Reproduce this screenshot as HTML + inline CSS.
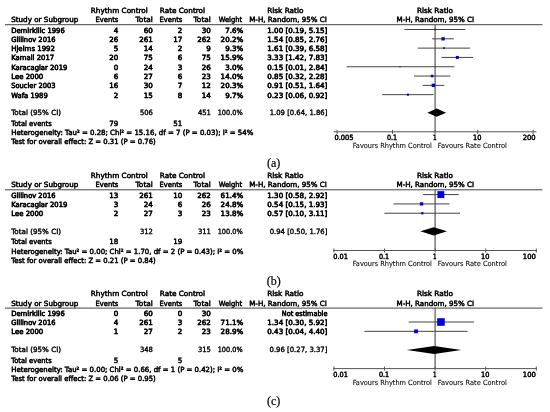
<!DOCTYPE html>
<html><head><meta charset="utf-8"><title>Forest plots</title>
<style>
html,body{margin:0;padding:0;background:#fff;}
svg{display:block;}
.t{font-family:"DejaVu Sans","Liberation Sans",sans-serif;font-size:7.15px;fill:#000;}
.h{stroke:#000;stroke-width:0.5px;}
.d{stroke:#000;stroke-width:0.62px;}
.f{stroke:#000;stroke-width:0.5px;}
.b{stroke:#000;stroke-width:0.38px;}
.a{stroke:#000;stroke-width:0.5px;}
.fv{stroke:#000;stroke-width:0.08px;}
.lab{font-family:"Liberation Serif",serif;font-size:12px;fill:#000;stroke:#000;stroke-width:0.2px;}
.rule{stroke:#444;stroke-width:1;}
.vl{stroke:#484848;stroke-width:1.1;}
.ci{stroke:#444;stroke-width:1;}
.ax{stroke:#555;stroke-width:1;}
.sq{fill:#0000e6;}
.dia{fill:#000;}
</style></head><body>
<svg width="550" height="412" viewBox="0 0 550 412">
<rect width="550" height="412" fill="#fff"/>
<text x="90.80" y="12.50" class="t h" textLength="57.0" lengthAdjust="spacingAndGlyphs">Rhythm Control</text>
<text x="159.80" y="12.50" class="t h" textLength="45.3" lengthAdjust="spacingAndGlyphs">Rate Control</text>
<text x="285.30" y="12.50" class="t h" text-anchor="middle" textLength="36.2" lengthAdjust="spacingAndGlyphs">Risk Ratio</text>
<text x="435.00" y="12.50" class="t h" text-anchor="middle" textLength="36.2" lengthAdjust="spacingAndGlyphs">Risk Ratio</text>
<text x="11.20" y="21.75" class="t h" textLength="67.2" lengthAdjust="spacingAndGlyphs">Study or Subgroup</text>
<text x="118.30" y="21.75" class="t h" text-anchor="end" textLength="22.7" lengthAdjust="spacingAndGlyphs">Events</text>
<text x="152.90" y="21.75" class="t h" text-anchor="end" textLength="17.3" lengthAdjust="spacingAndGlyphs">Total</text>
<text x="182.30" y="21.75" class="t h" text-anchor="end" textLength="22.7" lengthAdjust="spacingAndGlyphs">Events</text>
<text x="210.90" y="21.75" class="t h" text-anchor="end" textLength="17.3" lengthAdjust="spacingAndGlyphs">Total</text>
<text x="242.20" y="21.75" class="t h" text-anchor="end" textLength="23.5" lengthAdjust="spacingAndGlyphs">Weight</text>
<text x="326.80" y="21.75" class="t h" text-anchor="end" textLength="77.6" lengthAdjust="spacingAndGlyphs">M-H, Random, 95% CI</text>
<text x="435.30" y="21.75" class="t h" text-anchor="middle" textLength="77.6" lengthAdjust="spacingAndGlyphs">M-H, Random, 95% CI</text>
<line x1="5.00" y1="24.70" x2="542.40" y2="24.70" class="rule"/>
<line x1="435.10" y1="24.70" x2="435.10" y2="131.80" class="vl"/>
<text x="11.20" y="32.50" class="t d" textLength="53.6" lengthAdjust="spacingAndGlyphs">Demirkilic 1996</text>
<text x="118.30" y="32.50" class="t d" text-anchor="end">4</text>
<text x="152.90" y="32.50" class="t d" text-anchor="end">60</text>
<text x="182.30" y="32.50" class="t d" text-anchor="end">2</text>
<text x="210.90" y="32.50" class="t d" text-anchor="end">30</text>
<text x="243.30" y="32.50" class="t d" text-anchor="end">7.6%</text>
<text x="327.40" y="32.50" class="t d" text-anchor="end">1.00 [0.19, 5.15]</text>
<line x1="404.37" y1="29.50" x2="465.42" y2="29.50" class="ci"/>
<rect x="434.35" y="28.75" width="1.50" height="1.50" class="sq"/>
<text x="11.20" y="41.81" class="t d" textLength="44.3" lengthAdjust="spacingAndGlyphs">Gillinov 2016</text>
<text x="118.30" y="41.81" class="t d" text-anchor="end">26</text>
<text x="152.90" y="41.81" class="t d" text-anchor="end">261</text>
<text x="182.30" y="41.81" class="t d" text-anchor="end">17</text>
<text x="210.90" y="41.81" class="t d" text-anchor="end">262</text>
<text x="243.30" y="41.81" class="t d" text-anchor="end">20.2%</text>
<text x="327.40" y="41.81" class="t d" text-anchor="end">1.54 [0.85, 2.76]</text>
<line x1="432.09" y1="38.81" x2="453.88" y2="38.81" class="ci"/>
<rect x="441.44" y="37.16" width="3.30" height="3.30" class="sq"/>
<text x="11.20" y="51.12" class="t d" textLength="43.8" lengthAdjust="spacingAndGlyphs">Hjelms 1992</text>
<text x="118.30" y="51.12" class="t d" text-anchor="end">5</text>
<text x="152.90" y="51.12" class="t d" text-anchor="end">14</text>
<text x="182.30" y="51.12" class="t d" text-anchor="end">2</text>
<text x="210.90" y="51.12" class="t d" text-anchor="end">9</text>
<text x="243.30" y="51.12" class="t d" text-anchor="end">9.3%</text>
<text x="327.40" y="51.12" class="t d" text-anchor="end">1.61 [0.39, 6.58]</text>
<line x1="417.68" y1="48.12" x2="469.96" y2="48.12" class="ci"/>
<rect x="443.06" y="47.27" width="1.70" height="1.70" class="sq"/>
<text x="11.20" y="60.43" class="t d" textLength="43.0" lengthAdjust="spacingAndGlyphs">Kamali 2017</text>
<text x="118.30" y="60.43" class="t d" text-anchor="end">20</text>
<text x="152.90" y="60.43" class="t d" text-anchor="end">75</text>
<text x="182.30" y="60.43" class="t d" text-anchor="end">6</text>
<text x="210.90" y="60.43" class="t d" text-anchor="end">75</text>
<text x="243.30" y="60.43" class="t d" text-anchor="end">15.9%</text>
<text x="327.40" y="60.43" class="t d" text-anchor="end">3.33 [1.42, 7.83]</text>
<line x1="441.59" y1="57.43" x2="473.17" y2="57.43" class="ci"/>
<rect x="455.86" y="55.93" width="3.00" height="3.00" class="sq"/>
<text x="11.20" y="69.74" class="t d" textLength="56.2" lengthAdjust="spacingAndGlyphs">Karacaglar 2019</text>
<text x="118.30" y="69.74" class="t d" text-anchor="end">0</text>
<text x="152.90" y="69.74" class="t d" text-anchor="end">24</text>
<text x="182.30" y="69.74" class="t d" text-anchor="end">3</text>
<text x="210.90" y="69.74" class="t d" text-anchor="end">26</text>
<text x="243.30" y="69.74" class="t d" text-anchor="end">3.0%</text>
<text x="327.40" y="69.74" class="t d" text-anchor="end">0.15 [0.01, 2.84]</text>
<line x1="346.67" y1="66.74" x2="454.41" y2="66.74" class="ci"/>
<rect x="399.40" y="66.14" width="1.20" height="1.20" class="sq"/>
<text x="11.20" y="79.05" class="t d" textLength="32.1" lengthAdjust="spacingAndGlyphs">Lee 2000</text>
<text x="118.30" y="79.05" class="t d" text-anchor="end">6</text>
<text x="152.90" y="79.05" class="t d" text-anchor="end">27</text>
<text x="182.30" y="79.05" class="t d" text-anchor="end">6</text>
<text x="210.90" y="79.05" class="t d" text-anchor="end">23</text>
<text x="243.30" y="79.05" class="t d" text-anchor="end">14.0%</text>
<text x="327.40" y="79.05" class="t d" text-anchor="end">0.85 [0.32, 2.28]</text>
<line x1="414.02" y1="76.05" x2="450.35" y2="76.05" class="ci"/>
<rect x="430.79" y="74.75" width="2.60" height="2.60" class="sq"/>
<text x="11.20" y="88.36" class="t d" textLength="44.3" lengthAdjust="spacingAndGlyphs">Soucier 2003</text>
<text x="118.30" y="88.36" class="t d" text-anchor="end">16</text>
<text x="152.90" y="88.36" class="t d" text-anchor="end">30</text>
<text x="182.30" y="88.36" class="t d" text-anchor="end">7</text>
<text x="210.90" y="88.36" class="t d" text-anchor="end">12</text>
<text x="243.30" y="88.36" class="t d" text-anchor="end">20.3%</text>
<text x="327.40" y="88.36" class="t d" text-anchor="end">0.91 [0.51, 1.64]</text>
<line x1="422.64" y1="85.36" x2="444.25" y2="85.36" class="ci"/>
<rect x="431.66" y="83.66" width="3.40" height="3.40" class="sq"/>
<text x="11.20" y="97.67" class="t d" textLength="36.6" lengthAdjust="spacingAndGlyphs">Wafa 1989</text>
<text x="118.30" y="97.67" class="t d" text-anchor="end">2</text>
<text x="152.90" y="97.67" class="t d" text-anchor="end">15</text>
<text x="182.30" y="97.67" class="t d" text-anchor="end">8</text>
<text x="210.90" y="97.67" class="t d" text-anchor="end">14</text>
<text x="243.30" y="97.67" class="t d" text-anchor="end">9.7%</text>
<text x="327.40" y="97.67" class="t d" text-anchor="end">0.23 [0.06, 0.92]</text>
<line x1="382.17" y1="94.67" x2="433.56" y2="94.67" class="ci"/>
<rect x="406.86" y="93.62" width="2.10" height="2.10" class="sq"/>
<text x="11.20" y="115.30" class="t b" textLength="49.9" lengthAdjust="spacingAndGlyphs">Total (95% CI)</text>
<text x="152.90" y="115.30" class="t b" text-anchor="end" textLength="13.0" lengthAdjust="spacingAndGlyphs">506</text>
<text x="210.90" y="115.30" class="t b" text-anchor="end" textLength="13.0" lengthAdjust="spacingAndGlyphs">451</text>
<text x="242.70" y="115.30" class="t b" text-anchor="end" textLength="25.0" lengthAdjust="spacingAndGlyphs">100.0%</text>
<text x="327.40" y="115.30" class="t b" text-anchor="end" textLength="57.7" lengthAdjust="spacingAndGlyphs">1.09 [0.64, 1.86]</text>
<polygon points="427.34,112.70 436.69,108.60 446.08,112.70 436.69,116.80" class="dia"/>
<text x="11.20" y="125.70" class="t f" textLength="40.5" lengthAdjust="spacingAndGlyphs">Total events</text>
<text x="118.30" y="125.70" class="t f" text-anchor="end">79</text>
<text x="182.30" y="125.70" class="t f" text-anchor="end">51</text>
<text x="11.20" y="135.01" class="t f" textLength="242.2" lengthAdjust="spacingAndGlyphs">Heterogeneity: Tau² = 0.28; Chi² = 15.16, df = 7 (P = 0.03); I² = 54%</text>
<text x="11.20" y="144.32" class="t f" textLength="144.6" lengthAdjust="spacingAndGlyphs">Test for overall effect: Z = 0.31 (P = 0.76)</text>
<line x1="333.60" y1="131.80" x2="536.50" y2="131.80" class="ax"/>
<line x1="337.08" y1="129.80" x2="337.08" y2="133.80" class="ax"/>
<text x="334.40" y="139.80" class="t a" textLength="19.2" lengthAdjust="spacingAndGlyphs">0.005</text>
<line x1="392.50" y1="129.80" x2="392.50" y2="133.80" class="ax"/>
<text x="392.10" y="139.80" class="t a" text-anchor="middle" textLength="10.2" lengthAdjust="spacingAndGlyphs">0.1</text>
<line x1="435.10" y1="129.80" x2="435.10" y2="133.80" class="ax"/>
<text x="434.70" y="139.80" class="t a" text-anchor="middle" textLength="3.6" lengthAdjust="spacingAndGlyphs">1</text>
<line x1="477.70" y1="129.80" x2="477.70" y2="133.80" class="ax"/>
<text x="477.30" y="139.80" class="t a" text-anchor="middle" textLength="8.4" lengthAdjust="spacingAndGlyphs">10</text>
<line x1="533.12" y1="129.80" x2="533.12" y2="133.80" class="ax"/>
<text x="535.70" y="139.80" class="t a" text-anchor="end" textLength="13.0" lengthAdjust="spacingAndGlyphs">200</text>
<text x="431.90" y="147.70" class="t fv" text-anchor="end" textLength="79.2" lengthAdjust="spacingAndGlyphs">Favours Rhythm Control</text>
<text x="437.80" y="147.70" class="t fv" textLength="69.1" lengthAdjust="spacingAndGlyphs">Favours Rate Control</text>
<text x="273.70" y="167.40" class="lab" text-anchor="middle">(a)</text>
<text x="90.80" y="177.60" class="t h" textLength="57.0" lengthAdjust="spacingAndGlyphs">Rhythm Control</text>
<text x="159.80" y="177.60" class="t h" textLength="45.3" lengthAdjust="spacingAndGlyphs">Rate Control</text>
<text x="285.30" y="177.60" class="t h" text-anchor="middle" textLength="36.2" lengthAdjust="spacingAndGlyphs">Risk Ratio</text>
<text x="435.00" y="177.60" class="t h" text-anchor="middle" textLength="36.2" lengthAdjust="spacingAndGlyphs">Risk Ratio</text>
<text x="11.20" y="186.85" class="t h" textLength="67.2" lengthAdjust="spacingAndGlyphs">Study or Subgroup</text>
<text x="118.30" y="186.85" class="t h" text-anchor="end" textLength="22.7" lengthAdjust="spacingAndGlyphs">Events</text>
<text x="152.90" y="186.85" class="t h" text-anchor="end" textLength="17.3" lengthAdjust="spacingAndGlyphs">Total</text>
<text x="182.30" y="186.85" class="t h" text-anchor="end" textLength="22.7" lengthAdjust="spacingAndGlyphs">Events</text>
<text x="210.90" y="186.85" class="t h" text-anchor="end" textLength="17.3" lengthAdjust="spacingAndGlyphs">Total</text>
<text x="242.20" y="186.85" class="t h" text-anchor="end" textLength="23.5" lengthAdjust="spacingAndGlyphs">Weight</text>
<text x="326.80" y="186.85" class="t h" text-anchor="end" textLength="77.6" lengthAdjust="spacingAndGlyphs">M-H, Random, 95% CI</text>
<text x="435.30" y="186.85" class="t h" text-anchor="middle" textLength="77.6" lengthAdjust="spacingAndGlyphs">M-H, Random, 95% CI</text>
<line x1="5.00" y1="189.80" x2="542.40" y2="189.80" class="rule"/>
<line x1="435.10" y1="189.80" x2="435.10" y2="250.50" class="vl"/>
<text x="11.20" y="197.60" class="t d" textLength="44.3" lengthAdjust="spacingAndGlyphs">Gillinov 2016</text>
<text x="118.30" y="197.60" class="t d" text-anchor="end">13</text>
<text x="152.90" y="197.60" class="t d" text-anchor="end">261</text>
<text x="182.30" y="197.60" class="t d" text-anchor="end">10</text>
<text x="210.90" y="197.60" class="t d" text-anchor="end">262</text>
<text x="243.30" y="197.60" class="t d" text-anchor="end">61.4%</text>
<text x="327.40" y="197.60" class="t d" text-anchor="end">1.30 [0.58, 2.92]</text>
<line x1="423.13" y1="194.60" x2="458.65" y2="194.60" class="ci"/>
<rect x="437.42" y="191.15" width="6.90" height="6.90" class="sq"/>
<text x="11.20" y="206.91" class="t d" textLength="56.2" lengthAdjust="spacingAndGlyphs">Karacaglar 2019</text>
<text x="118.30" y="206.91" class="t d" text-anchor="end">3</text>
<text x="152.90" y="206.91" class="t d" text-anchor="end">24</text>
<text x="182.30" y="206.91" class="t d" text-anchor="end">6</text>
<text x="210.90" y="206.91" class="t d" text-anchor="end">26</text>
<text x="243.30" y="206.91" class="t d" text-anchor="end">24.8%</text>
<text x="327.40" y="206.91" class="t d" text-anchor="end">0.54 [0.15, 1.93]</text>
<line x1="393.41" y1="203.91" x2="449.55" y2="203.91" class="ci"/>
<rect x="419.91" y="202.26" width="3.30" height="3.30" class="sq"/>
<text x="11.20" y="216.22" class="t d" textLength="32.1" lengthAdjust="spacingAndGlyphs">Lee 2000</text>
<text x="118.30" y="216.22" class="t d" text-anchor="end">2</text>
<text x="152.90" y="216.22" class="t d" text-anchor="end">27</text>
<text x="182.30" y="216.22" class="t d" text-anchor="end">3</text>
<text x="210.90" y="216.22" class="t d" text-anchor="end">23</text>
<text x="243.30" y="216.22" class="t d" text-anchor="end">13.8%</text>
<text x="327.40" y="216.22" class="t d" text-anchor="end">0.57 [0.10, 3.11]</text>
<line x1="384.50" y1="213.22" x2="460.03" y2="213.22" class="ci"/>
<rect x="421.13" y="212.07" width="2.30" height="2.30" class="sq"/>
<text x="11.20" y="233.90" class="t b" textLength="49.9" lengthAdjust="spacingAndGlyphs">Total (95% CI)</text>
<text x="152.90" y="233.90" class="t b" text-anchor="end" textLength="13.0" lengthAdjust="spacingAndGlyphs">312</text>
<text x="210.90" y="233.90" class="t b" text-anchor="end" textLength="13.0" lengthAdjust="spacingAndGlyphs">311</text>
<text x="242.70" y="233.90" class="t b" text-anchor="end" textLength="25.0" lengthAdjust="spacingAndGlyphs">100.0%</text>
<text x="327.40" y="233.90" class="t b" text-anchor="end" textLength="57.7" lengthAdjust="spacingAndGlyphs">0.94 [0.50, 1.76]</text>
<polygon points="420.37,231.30 433.74,227.20 447.02,231.30 433.74,235.40" class="dia"/>
<text x="11.20" y="244.30" class="t f" textLength="40.5" lengthAdjust="spacingAndGlyphs">Total events</text>
<text x="118.30" y="244.30" class="t f" text-anchor="end">18</text>
<text x="182.30" y="244.30" class="t f" text-anchor="end">19</text>
<text x="11.20" y="253.61" class="t f" textLength="232.2" lengthAdjust="spacingAndGlyphs">Heterogeneity: Tau² = 0.00; Chi² = 1.70, df = 2 (P = 0.43); I² = 0%</text>
<text x="11.20" y="262.92" class="t f" textLength="144.6" lengthAdjust="spacingAndGlyphs">Test for overall effect: Z = 0.21 (P = 0.84)</text>
<line x1="333.40" y1="250.50" x2="536.90" y2="250.50" class="ax"/>
<line x1="333.90" y1="248.50" x2="333.90" y2="252.50" class="ax"/>
<text x="333.30" y="258.50" class="t a" textLength="14.6" lengthAdjust="spacingAndGlyphs">0.01</text>
<line x1="384.50" y1="248.50" x2="384.50" y2="252.50" class="ax"/>
<text x="384.10" y="258.50" class="t a" text-anchor="middle" textLength="10.2" lengthAdjust="spacingAndGlyphs">0.1</text>
<line x1="435.10" y1="248.50" x2="435.10" y2="252.50" class="ax"/>
<text x="434.70" y="258.50" class="t a" text-anchor="middle" textLength="3.6" lengthAdjust="spacingAndGlyphs">1</text>
<line x1="485.70" y1="248.50" x2="485.70" y2="252.50" class="ax"/>
<text x="485.30" y="258.50" class="t a" text-anchor="middle" textLength="8.4" lengthAdjust="spacingAndGlyphs">10</text>
<line x1="536.30" y1="248.50" x2="536.30" y2="252.50" class="ax"/>
<text x="535.90" y="258.50" class="t a" text-anchor="end" textLength="13.1" lengthAdjust="spacingAndGlyphs">100</text>
<text x="431.90" y="266.40" class="t fv" text-anchor="end" textLength="79.2" lengthAdjust="spacingAndGlyphs">Favours Rhythm Control</text>
<text x="437.80" y="266.40" class="t fv" textLength="69.1" lengthAdjust="spacingAndGlyphs">Favours Rate Control</text>
<text x="273.70" y="285.10" class="lab" text-anchor="middle">(b)</text>
<text x="90.80" y="296.30" class="t h" textLength="57.0" lengthAdjust="spacingAndGlyphs">Rhythm Control</text>
<text x="159.80" y="296.30" class="t h" textLength="45.3" lengthAdjust="spacingAndGlyphs">Rate Control</text>
<text x="285.30" y="296.30" class="t h" text-anchor="middle" textLength="36.2" lengthAdjust="spacingAndGlyphs">Risk Ratio</text>
<text x="435.00" y="296.30" class="t h" text-anchor="middle" textLength="36.2" lengthAdjust="spacingAndGlyphs">Risk Ratio</text>
<text x="11.20" y="305.55" class="t h" textLength="67.2" lengthAdjust="spacingAndGlyphs">Study or Subgroup</text>
<text x="118.30" y="305.55" class="t h" text-anchor="end" textLength="22.7" lengthAdjust="spacingAndGlyphs">Events</text>
<text x="152.90" y="305.55" class="t h" text-anchor="end" textLength="17.3" lengthAdjust="spacingAndGlyphs">Total</text>
<text x="182.30" y="305.55" class="t h" text-anchor="end" textLength="22.7" lengthAdjust="spacingAndGlyphs">Events</text>
<text x="210.90" y="305.55" class="t h" text-anchor="end" textLength="17.3" lengthAdjust="spacingAndGlyphs">Total</text>
<text x="242.20" y="305.55" class="t h" text-anchor="end" textLength="23.5" lengthAdjust="spacingAndGlyphs">Weight</text>
<text x="326.80" y="305.55" class="t h" text-anchor="end" textLength="77.6" lengthAdjust="spacingAndGlyphs">M-H, Random, 95% CI</text>
<text x="435.30" y="305.55" class="t h" text-anchor="middle" textLength="77.6" lengthAdjust="spacingAndGlyphs">M-H, Random, 95% CI</text>
<line x1="5.00" y1="308.10" x2="542.40" y2="308.10" class="rule"/>
<line x1="435.10" y1="308.10" x2="435.10" y2="368.60" class="vl"/>
<text x="11.20" y="315.70" class="t d" textLength="53.6" lengthAdjust="spacingAndGlyphs">Demirkilic 1996</text>
<text x="118.30" y="315.70" class="t d" text-anchor="end">0</text>
<text x="152.90" y="315.70" class="t d" text-anchor="end">60</text>
<text x="182.30" y="315.70" class="t d" text-anchor="end">0</text>
<text x="210.90" y="315.70" class="t d" text-anchor="end">30</text>
<text x="327.40" y="315.70" class="t d" text-anchor="end" textLength="45.6" lengthAdjust="spacingAndGlyphs">Not estimable</text>
<text x="11.20" y="325.01" class="t d" textLength="44.3" lengthAdjust="spacingAndGlyphs">Gillinov 2016</text>
<text x="118.30" y="325.01" class="t d" text-anchor="end">4</text>
<text x="152.90" y="325.01" class="t d" text-anchor="end">261</text>
<text x="182.30" y="325.01" class="t d" text-anchor="end">3</text>
<text x="210.90" y="325.01" class="t d" text-anchor="end">262</text>
<text x="243.30" y="325.01" class="t d" text-anchor="end">71.1%</text>
<text x="327.40" y="325.01" class="t d" text-anchor="end">1.34 [0.30, 5.92]</text>
<line x1="408.64" y1="322.01" x2="474.18" y2="322.01" class="ci"/>
<rect x="437.15" y="318.21" width="7.60" height="7.60" class="sq"/>
<text x="11.20" y="334.32" class="t d" textLength="32.1" lengthAdjust="spacingAndGlyphs">Lee 2000</text>
<text x="118.30" y="334.32" class="t d" text-anchor="end">1</text>
<text x="152.90" y="334.32" class="t d" text-anchor="end">27</text>
<text x="182.30" y="334.32" class="t d" text-anchor="end">2</text>
<text x="210.90" y="334.32" class="t d" text-anchor="end">23</text>
<text x="243.30" y="334.32" class="t d" text-anchor="end">28.9%</text>
<text x="327.40" y="334.32" class="t d" text-anchor="end">0.43 [0.04, 4.40]</text>
<line x1="364.36" y1="331.32" x2="467.66" y2="331.32" class="ci"/>
<rect x="414.14" y="329.42" width="3.80" height="3.80" class="sq"/>
<text x="11.20" y="352.00" class="t b" textLength="49.9" lengthAdjust="spacingAndGlyphs">Total (95% CI)</text>
<text x="152.90" y="352.00" class="t b" text-anchor="end" textLength="13.0" lengthAdjust="spacingAndGlyphs">348</text>
<text x="210.90" y="352.00" class="t b" text-anchor="end" textLength="13.0" lengthAdjust="spacingAndGlyphs">315</text>
<text x="242.70" y="352.00" class="t b" text-anchor="end" textLength="25.0" lengthAdjust="spacingAndGlyphs">100.0%</text>
<text x="327.40" y="352.00" class="t b" text-anchor="end" textLength="57.9" lengthAdjust="spacingAndGlyphs">0.96 [0.27, 3.37]</text>
<polygon points="406.83,350.00 434.20,345.90 461.30,350.00 434.20,354.10" class="dia"/>
<text x="11.20" y="362.65" class="t f" textLength="40.5" lengthAdjust="spacingAndGlyphs">Total events</text>
<text x="118.30" y="362.65" class="t f" text-anchor="end">5</text>
<text x="182.30" y="362.65" class="t f" text-anchor="end">5</text>
<text x="11.20" y="371.96" class="t f" textLength="232.2" lengthAdjust="spacingAndGlyphs">Heterogeneity: Tau² = 0.00; Chi² = 0.66, df = 1 (P = 0.42); I² = 0%</text>
<text x="11.20" y="381.27" class="t f" textLength="144.6" lengthAdjust="spacingAndGlyphs">Test for overall effect: Z = 0.06 (P = 0.95)</text>
<line x1="333.40" y1="368.60" x2="536.90" y2="368.60" class="ax"/>
<line x1="333.90" y1="366.60" x2="333.90" y2="370.60" class="ax"/>
<text x="333.30" y="376.60" class="t a" textLength="14.6" lengthAdjust="spacingAndGlyphs">0.01</text>
<line x1="384.50" y1="366.60" x2="384.50" y2="370.60" class="ax"/>
<text x="384.10" y="376.60" class="t a" text-anchor="middle" textLength="10.2" lengthAdjust="spacingAndGlyphs">0.1</text>
<line x1="435.10" y1="366.60" x2="435.10" y2="370.60" class="ax"/>
<text x="434.70" y="376.60" class="t a" text-anchor="middle" textLength="3.6" lengthAdjust="spacingAndGlyphs">1</text>
<line x1="485.70" y1="366.60" x2="485.70" y2="370.60" class="ax"/>
<text x="485.30" y="376.60" class="t a" text-anchor="middle" textLength="8.4" lengthAdjust="spacingAndGlyphs">10</text>
<line x1="536.30" y1="366.60" x2="536.30" y2="370.60" class="ax"/>
<text x="535.90" y="376.60" class="t a" text-anchor="end" textLength="13.1" lengthAdjust="spacingAndGlyphs">100</text>
<text x="431.90" y="384.50" class="t fv" text-anchor="end" textLength="79.2" lengthAdjust="spacingAndGlyphs">Favours Rhythm Control</text>
<text x="437.80" y="384.50" class="t fv" textLength="69.1" lengthAdjust="spacingAndGlyphs">Favours Rate Control</text>
<text x="273.70" y="404.50" class="lab" text-anchor="middle">(c)</text>
</svg>
</body></html>
